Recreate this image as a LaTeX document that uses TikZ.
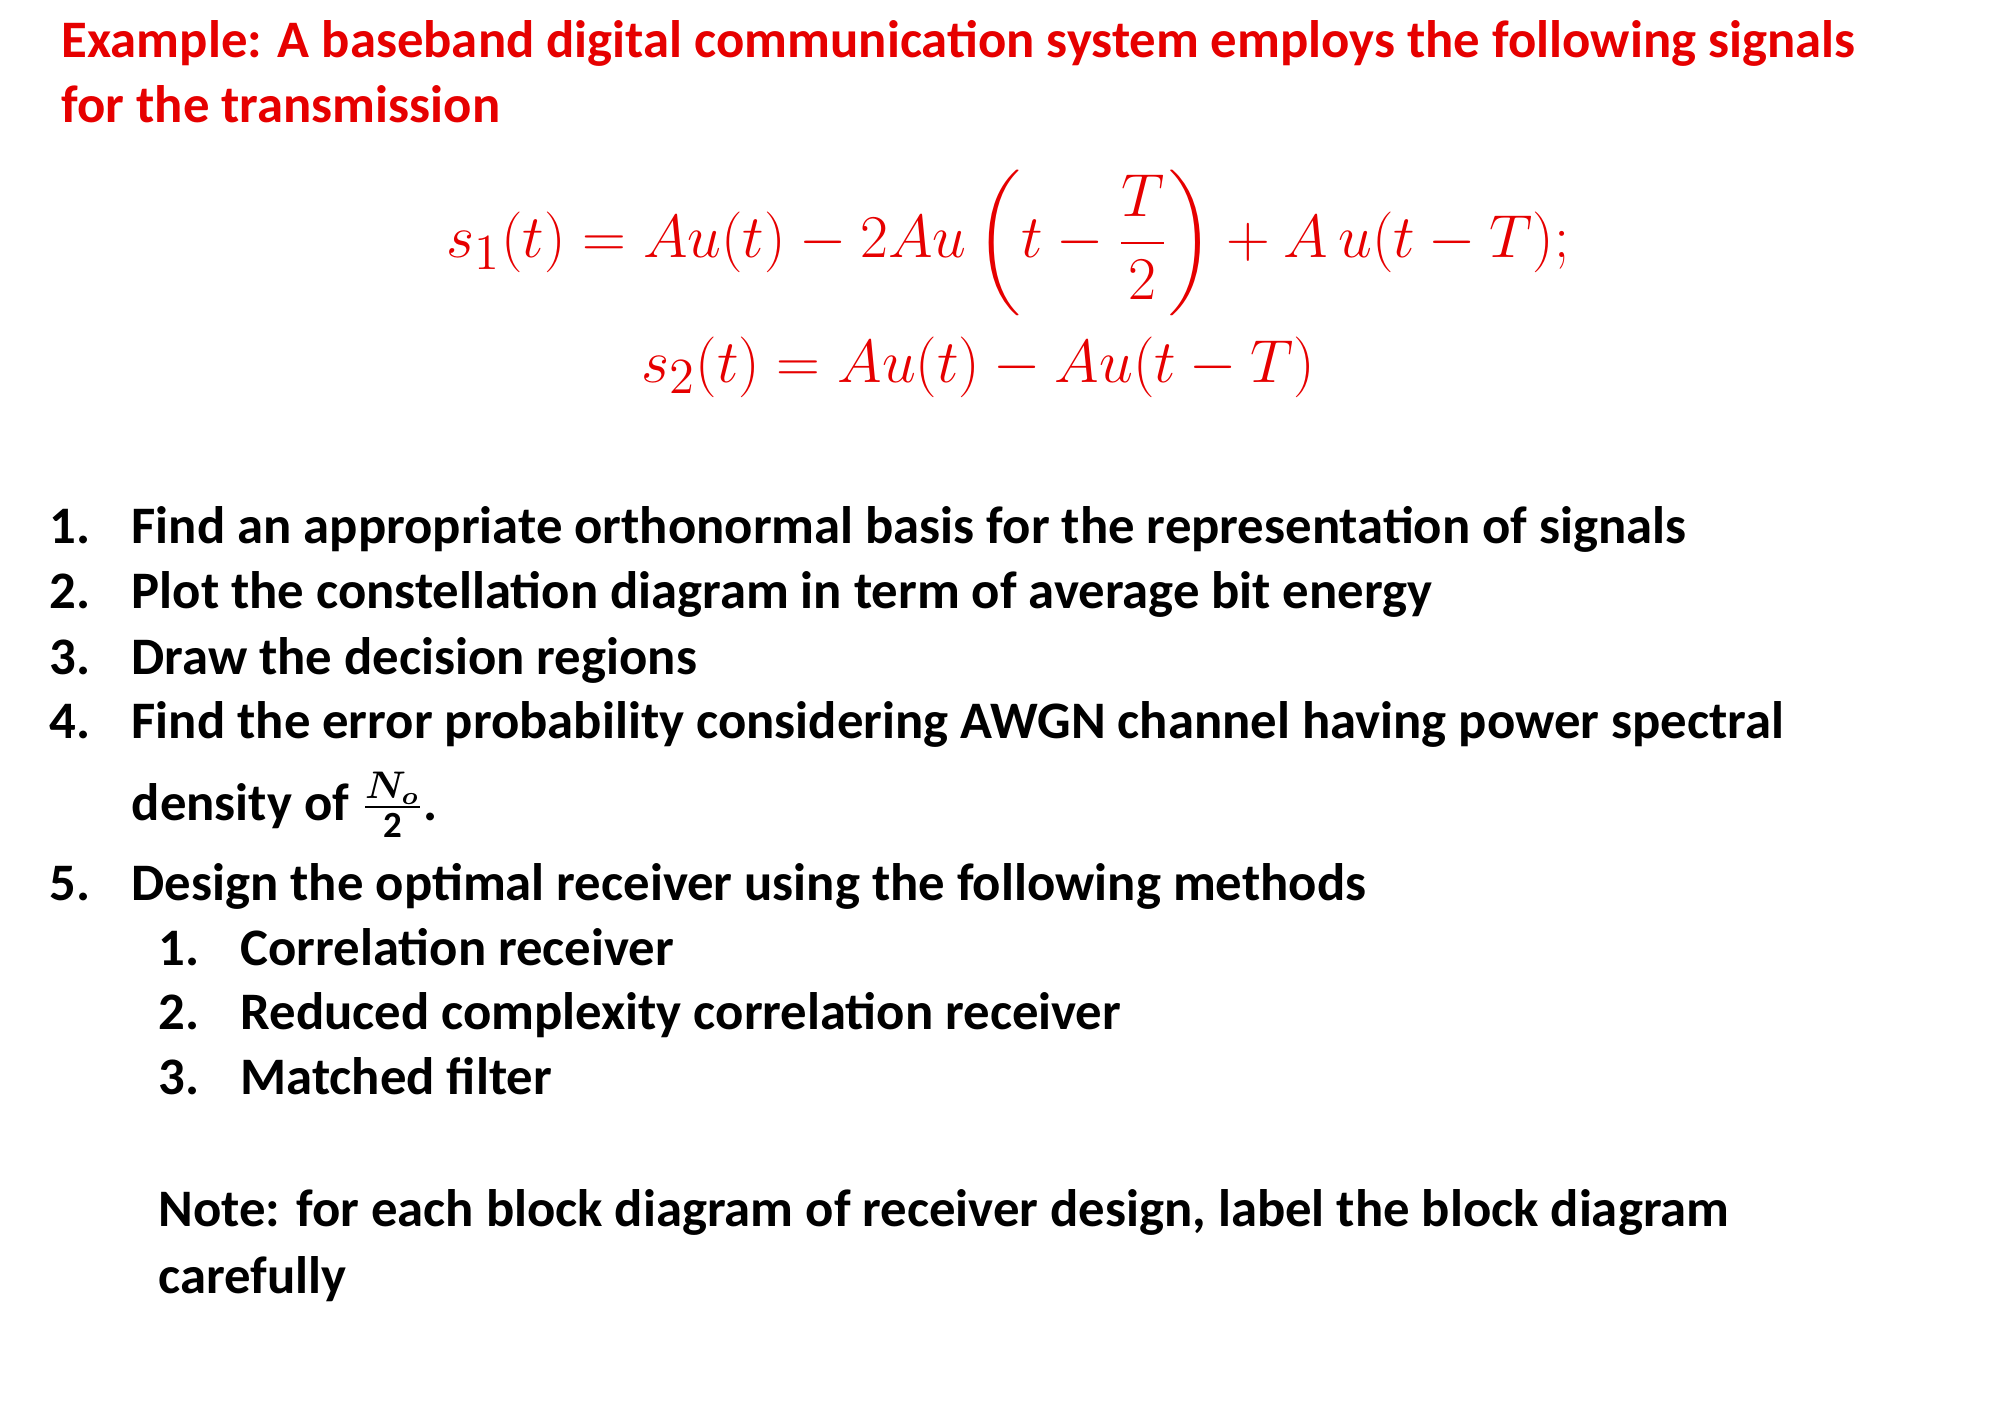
\documentclass[tikz,border=0pt]{standalone}
\usepackage{fontspec}
\setmainfont{Carlito}
\usepackage{amsmath}
\usetikzlibrary{positioning}
\definecolor{titlered}{RGB}{230,0,0}

\begin{document}
\begin{tikzpicture}[
    x=1cm, y=1cm,
    txt/.style={anchor=base west, inner sep=0pt, font=\fontsize{15}{18}\selectfont\bfseries},
    heading/.style={txt, text=titlered},
    formula/.style={anchor=base, inner sep=0pt, text=titlered, font=\fontsize{19}{23}\selectfont}
]
    \useasboundingbox (0,0) rectangle (20.04,-14.18);

    % Heading
    \node (head1) [heading] at (0.61,-0.58) {Example: A baseband digital communication system employs the following signals};
    \node (head2) [heading] at (0.61,-1.23) {for the transmission};

    % Signals
    \node (sig1) [formula] at (10.08,-2.58) {$s_1(t) = Au(t) - 2Au\left(t-\dfrac{T}{2}\right) + A\,u(t-T);$};
    \node (sig2) [formula] at (9.78,-3.82) {$s_2(t) = Au(t) - Au(t-T)$};

    % Questions
    \foreach \num/\ypos/\item in {
        1/5.43/Find an appropriate orthonormal basis for the representation of signals,
        2/6.08/Plot the constellation diagram in term of average bit energy,
        3/6.74/Draw the decision regions,
        4/7.38/Find the error probability considering AWGN channel having power spectral,
        5/9.00/Design the optimal receiver using the following methods}{
        \node (num\num) [txt] at (0.49,-\ypos) {\num.};
        \node (item\num) [txt] at (1.31,-\ypos) {\item};
    }
    \node (item4b) [txt] at (1.31,-8.20) {density of $\frac{\boldsymbol{N_o}}{\mathbf{2}}$.};

    % Receiver methods
    \foreach \num/\ypos/\item in {
        1/9.65/Correlation receiver,
        2/10.29/Reduced complexity correlation receiver,
        3/10.94/Matched filter}{
        \node (subnum\num) [txt] at (1.58,-\ypos) {\num.};
        \node (sub\num) [txt] at (2.40,-\ypos) {\item};
    }

    % Note
    \node (note1) [txt] at (1.58,-12.26) {Note: for each block diagram of receiver design, label the block diagram};
    \node (note2) [txt] at (1.58,-12.93) {carefully};
\end{tikzpicture}
\end{document}
